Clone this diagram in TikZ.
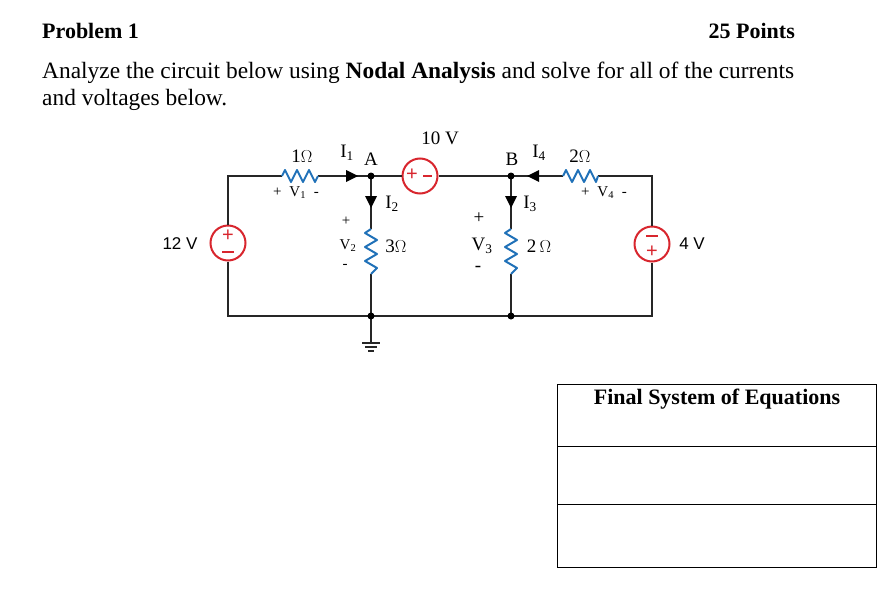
\documentclass[tikz,border=0pt]{standalone}
\usepackage{fontspec}
\setmainfont{Liberation Serif}
\newfontfamily\sansf{Liberation Sans}
\definecolor{sred}{HTML}{D8262E}
\definecolor{rblue}{HTML}{2071B8}
\begin{document}
\begin{tikzpicture}[x=1pt,y=-1pt,
 wire/.style={line width=2.2pt,black!85},
 res/.style={line width=2pt,rblue,line join=round},
 src/.style={circle,draw=sred,line width=2pt,minimum size=35pt,inner sep=0pt,fill=white,text=sred},
 dot/.style={circle,fill=black,inner sep=0pt,minimum size=7pt},
 lab/.style={font=\fontsize{19}{19}\selectfont,inner sep=0pt},
 sml/.style={font=\fontsize{15}{15}\selectfont,inner sep=0pt}]
\useasboundingbox (0,0) rectangle (894,589);
\node[anchor=west,font=\bfseries\fontsize{22}{22}\selectfont,inner sep=0pt] (p1) at (42,31) {Problem 1};
\node[anchor=east,font=\bfseries\fontsize{22}{22}\selectfont,inner sep=0pt] (pts) at (795,31) {25 Points};
\node[anchor=north west,align=left,font=\fontsize{23.4}{27}\selectfont,inner sep=0pt] (txt) at (42,62) {Analyze the circuit below using \textbf{Nodal Analysis} and solve for all of the currents\\and voltages below.};
\coordinate (TL) at (228,176); \coordinate (BL) at (228,316);
\coordinate (A) at (371,176); \coordinate (B) at (511,176);
\coordinate (TR) at (652,176); \coordinate (BR) at (652,316);
\coordinate (GA) at (371,316); \coordinate (GB) at (511,316);
\node[src] (s12) at (228,243) {};
\node[src] (s10) at (420,176) {};
\node[src] (s4) at (652,244) {};
\node[text=sred,font=\sansf\fontsize{20}{20}\selectfont] at (228,236) {+};
\draw[sred,line width=1.8pt] (222,252)--(234,252);
\node[text=sred,font=\sansf\fontsize{20}{20}\selectfont] at (412,175) {+};
\draw[sred,line width=1.8pt] (423,176)--(432,176);
\draw[sred,line width=1.8pt] (646,236)--(658,236);
\node[text=sred,font=\sansf\fontsize{20}{20}\selectfont] at (652,252) {+};
\draw[wire] (s12.south)--(BL)--(BR)--(s4.south);
\draw[wire] (s12.north)--(TL)--(282,176);
\draw[wire] (318,176)--(A)--(s10.west);
\draw[wire] (s10.east)--(B)--(563,176);
\draw[wire] (598,176)--(TR)--(s4.north);
\draw[wire] (A)--(371,229); \draw[wire] (371,274)--(GA)--(371,343);
\draw[wire] (B)--(511,229); \draw[wire] (511,274)--(GB);
\draw[res] (282,176)--(285,170)--(291,182)--(297,170)--(303,182)--(309,170)--(315,182)--(318,176);
\draw[res] (563,176)--(566,170)--(572,182)--(578,170)--(584,182)--(590,170)--(596,182)--(598,176);
\foreach \xx in {371,511}{
\draw[res] (\xx,229)--(\xx-6,233)--(\xx+6,240)--(\xx-6,247)--(\xx+6,254)--(\xx-6,261)--(\xx+6,268)--(\xx,274);}
\draw[wire,line width=1.5pt] (362,343)--(380,343) (365,347)--(377,347) (368,351)--(374,351);
\node[dot] (nA) at (A) {}; \node[dot] (nB) at (B) {};
\node[dot] (nGA) at (GA) {}; \node[dot] (nGB) at (GB) {};
\fill (346,170)--(358,176)--(346,182)--cycle;
\fill (539,170)--(527,176)--(539,182)--cycle;
\fill (365,196)--(377,196)--(371,208)--cycle;
\fill (505,196)--(517,196)--(511,208)--cycle;
\node[lab] at (302,156) {1$\Omega$};
\node[lab] at (347,153) {I\textsubscript{1}};
\node[lab] at (371,159) {A};
\node[lab] at (440,138) {10 V};
\node[lab] at (512,159) {B};
\node[lab] at (539,153) {I\textsubscript{4}};
\node[lab] at (580,156) {2$\Omega$};
\node[sml] at (296,193) {+\; V\textsubscript{1}\; -};
\node[sml] at (604,193) {+\; V\textsubscript{4}\; -};
\node[lab] at (392,204) {I\textsubscript{2}};
\node[lab] at (530,204) {I\textsubscript{3}};
\node[sml] at (346,221) {+};
\node[sml] at (348,246) {V\textsubscript{2}};
\node[sml] at (345,266) {-};
\node[lab] at (396,246) {3$\Omega$};
\node[lab] at (479,218) {+};
\node[lab] at (482,246) {V\textsubscript{3}};
\node[lab] at (478,269) {-};
\node[lab] at (539,246) {2\,$\Omega$};
\node[font=\sansf\fontsize{17}{17}\selectfont] at (180,244) {12 V};
\node[font=\sansf\fontsize{17}{17}\selectfont] at (692,244) {4 V};
\draw[line width=1pt] (557,384) rectangle (876,567);
\draw[line width=1pt] (557,446)--(876,446) (557,504)--(876,504);
\node[font=\bfseries\fontsize{22}{22}\selectfont] (ft) at (717,399) {Final System of Equations};
\end{tikzpicture}
\end{document}
